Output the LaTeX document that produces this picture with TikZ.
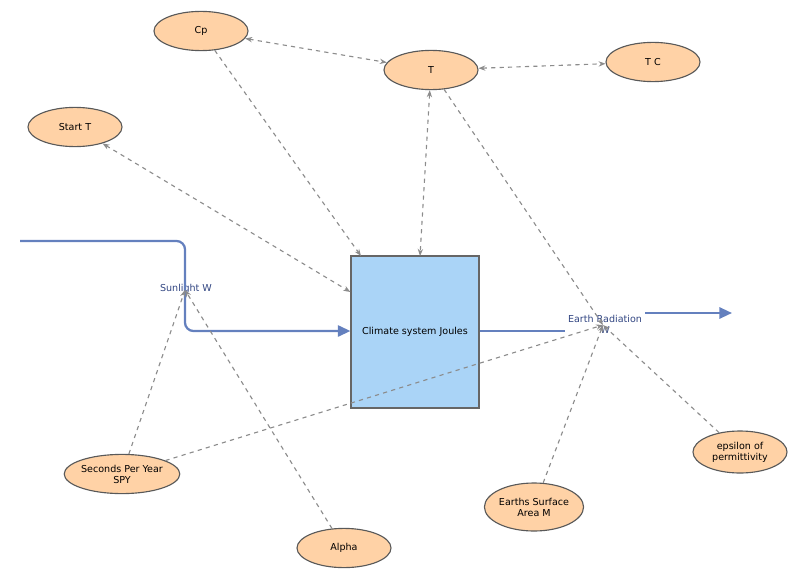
\documentclass[tikz,border=0pt]{standalone}
\usepackage{fontspec}
\setmainfont{DejaVu Sans}
\usetikzlibrary{shapes.geometric,arrows.meta}
\definecolor{flowblue}{RGB}{100,128,190}
\definecolor{labelblue}{RGB}{50,70,130}
\tikzset{
    x=0.025cm, y=-0.025cm, % one unit is one pixel of the reference
    }
\begin{document}
\begin{tikzpicture}[
varnode/.style={ellipse, draw=black!65, fill=orange!35!white, thick, minimum width=2.35cm, minimum height=0.98cm, inner sep=0pt, align=center, font=\fontsize{6.8}{7.8}\selectfont},
stocknode/.style={rectangle, draw=black!60, thick, minimum width=3.2cm, minimum height=3.8cm, font=\fontsize{6.8}{7.8}\selectfont},
valvenode/.style={inner sep=1pt, text=labelblue, align=center, font=\fontsize{6.8}{7.8}\selectfont},
link/.style={draw=black!45, dashed, thick, -{Stealth[length=5pt]}},
flow/.style={draw=flowblue, line width=1.6pt},
]
\useasboundingbox (0,0) rectangle (800,578);

\node[varnode] (cp) at (201,31) {Cp};
\node[varnode] (temp) at (431,70) {T};
\node[varnode] (tc) at (653,62) {T C};
\node[varnode] (startt) at (75,127) {Start T};
\node[varnode] (spy) at (122,474) {Seconds Per Year\\SPY};
\node[varnode] (alpha) at (344,548) {Alpha};
\node[varnode, minimum height=1.2cm] (area) at (534,507) {Earths Surface\\Area M};
\node[varnode, minimum height=1.05cm] (eps) at (740,452) {epsilon of\\permittivity};

\node[stocknode, fill={rgb,255:red,170;green,212;blue,247}] (climate) at (415,332) {Climate system Joules};

\coordinate (sunvalve) at (185,290);
\coordinate (earthvalve) at (603,325);
\node[valvenode] (sunlabel) at (186,289) {Sunlight W};
\node[valvenode] (earthlabel) at (605,324) {Earth Radiation\\W};
\coordinate (src) at (20,241);
\coordinate (sink) at (732,313);

% flows
\draw[flow, rounded corners=6pt, -{Triangle[length=9pt,width=8pt]}] (src) -- (185,241) -- (185,331) -- (climate.west |- 0,331);
\draw[flow] (climate.east |- 0,331) -- (565,331);
\draw[flow, -{Triangle[length=9pt,width=8pt]}] (645,313) -- (sink);

% links
\draw[link, {Stealth[length=5pt]}-{Stealth[length=5pt]}] (cp) -- (temp);
\draw[link, {Stealth[length=5pt]}-{Stealth[length=5pt]}] (temp) -- (tc);
\draw[link, {Stealth[length=5pt]}-{Stealth[length=5pt]}] (startt) -- (climate.west |- 0,292);
\draw[link, {Stealth[length=5pt]}-{Stealth[length=5pt]}] (temp) -- (420,256);
\draw[link] (cp) -- (361,256);
\draw[link] (temp) -- (earthvalve);
\draw[link] (eps) -- (earthvalve);
\draw[link] (area) -- (earthvalve);
\draw[link] (spy) -- (earthvalve);
\draw[link] (spy) -- (sunvalve);
\draw[link] (alpha) -- (sunvalve);

\end{tikzpicture}
\end{document}
